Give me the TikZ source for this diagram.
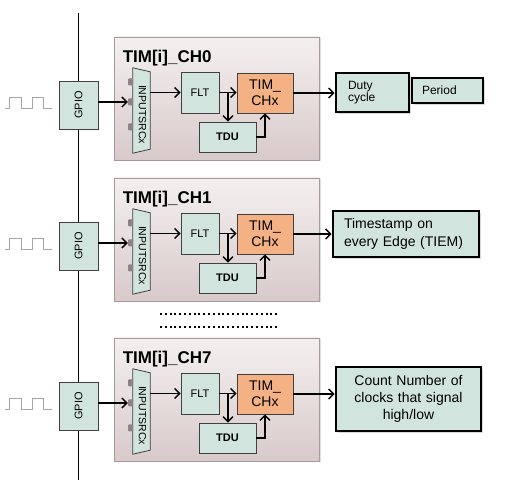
\documentclass[tikz,border=0pt]{standalone}
\usepackage{fontspec}
\setmainfont{Liberation Sans}
\usepackage{xcolor}
\usepackage{tikz}
\usetikzlibrary{positioning}
\usetikzlibrary{calc,shadows,arrows.meta}

\definecolor{tealfill}{HTML}{D2E4DE}
\definecolor{orng}{HTML}{F4B183}
\definecolor{chantop}{HTML}{F4F0F0}
\definecolor{chanbot}{HTML}{D9CACA}
\definecolor{chanedge}{HTML}{A89A9A}
\definecolor{pingrey}{HTML}{8E8282}

\begin{document}
\begin{tikzpicture}[x=1pt, y=1pt,
  chan/.style={draw=chanedge, line width=0.8pt, top color=chantop, bottom color=chanbot,
               minimum width=205pt, minimum height=123pt,
               drop shadow={opacity=0.25, shadow xshift=1.5pt, shadow yshift=-1.5pt}},
  blk/.style={draw=black!75, line width=0.8pt, fill=tealfill, inner sep=0pt,
              font=\fontsize{11}{13}\selectfont},
  outbox/.style={draw=black, line width=2.8pt, fill=tealfill, inner ysep=0pt,
                 drop shadow={opacity=0.3, shadow xshift=2pt, shadow yshift=-2pt}},
  pin/.style={fill=pingrey, rounded corners=1pt, minimum width=5pt, minimum height=7pt, inner sep=0pt},
  arr/.style={-{Straight Barb[length=5pt, width=10pt]}, line width=1.4pt},
  wave/.style={draw=black!35, line width=0.6pt}]
  %\draw [help lines, dotted] (0,0) grid[step=20] (515,487);
  \useasboundingbox (0,0) rectangle (515,487);

  \coordinate (BusTop) at (78.5,474);
  \coordinate (BusBot) at (78.5,7);
  \draw[line width=1.5pt] (BusTop) -- (BusBot);

  \foreach \c/\dy in {0/0, 1/141, 7/301} {
    \node[chan] (Ch\c) at (216.5, 388.5-\dy) {};
    \node[anchor=base west, inner sep=0pt, font=\fontsize{17}{20}\selectfont\bfseries]
      (Title\c) at ([xshift=9pt, yshift=-26pt] Ch\c.north west) {TIM[i]\_CH\c};

    \node[blk, minimum width=39pt, minimum height=48pt] (GPIO\c)
      at ([xshift=-138pt, yshift=-6.5pt] Ch\c.center) {\rotatebox{90}{GPIO}};
    \draw[wave] ([xshift=-73.5pt, yshift=-3pt] GPIO\c.center) -- ++(4,0) -- ++(0,11) -- ++(12,0)
      -- ++(0,-11) -- ++(11,0) -- ++(0,11) -- ++(11,0) -- ++(0,-11) -- ++(9,0);

    \node[minimum width=17pt, minimum height=85pt, inner sep=0pt] (Inp\c)
      at ([xshift=-75pt, yshift=-12pt] Ch\c.center) {};
    \draw[draw=black!75, line width=0.8pt, fill=tealfill] (Inp\c.north west)
      -- ([yshift=-4pt] Inp\c.north east) -- ([yshift=4pt] Inp\c.south east)
      -- (Inp\c.south west) -- cycle;
    \node[inner sep=0pt, font=\fontsize{10.5}{12}\selectfont] (InpT\c)
      at ([xshift=1pt, yshift=-4pt] Inp\c.center) {\rotatebox{-90}{INPUTSRCx}};
    \foreach \p/\s in {a/28.5, b/8.5, c/-16.5}
      \node[pin] (Pin\p\c) at ([xshift=-11pt, yshift=\s pt] Inp\c.center) {};

    \node[blk, minimum width=38pt, minimum height=41pt] (FLT\c)
      at ([xshift=-16.5pt, yshift=6pt] Ch\c.center) {FLT};
    \node[blk, fill=orng, minimum width=56pt, minimum height=40pt, align=center,
          font=\fontsize{14}{16}\selectfont] (TIM\c)
      at ([xshift=48.5pt, yshift=5.5pt] Ch\c.center) {TIM\_\\CHx};
    \node[blk, minimum width=57pt, minimum height=30pt, font=\fontsize{11}{13}\selectfont\bfseries]
      (TDU\c) at ([xshift=11pt, yshift=-38.5pt] Ch\c.center) {TDU};

    \draw[arr] (GPIO\c.east |- Pinb\c) -- (Pinb\c.west);
    \draw[arr] (Inp\c.east |- FLT\c.west) -- (FLT\c.west);
    \draw[arr] (FLT\c.east) -- (TIM\c.west |- FLT\c.east);
    \coordinate (Br\c) at ($(FLT\c.east)!.5!(TIM\c.west |- FLT\c.east)$);
    \draw[arr] (Br\c) -- (Br\c |- TDU\c.north);
    \draw[arr] (TDU\c.east) -| (TIM\c.south);
  }

  \node[outbox, minimum width=73pt, minimum height=39pt, text width=49pt, inner xsep=12pt,
        align=left, font=\fontsize{12}{12.5}\selectfont] (Out0) at (372.5,394.5) {Duty\\cycle};
  \node[outbox, minimum width=71pt, minimum height=25pt, text width=51pt, inner xsep=10pt,
        align=left, font=\fontsize{12}{13}\selectfont] (Period) at (447.5,396.5) {Period};
  \node[outbox, minimum width=146pt, minimum height=46pt, text width=124pt, inner xsep=11pt,
        align=left, font=\fontsize{14}{18}\selectfont] (Out1) at (406,253)
        {Timestamp on\\every Edge (TIEM)};
  \node[outbox, minimum width=145pt, minimum height=64pt, text width=131pt, inner xsep=7pt,
        align=center, font=\fontsize{14}{17}\selectfont] (Out7) at (408.5,88)
        {Count Number of\\clocks that signal\\high/low};
  \foreach \c in {0,1,7}
    \draw[arr] (TIM\c.east) -- (Out\c.west |- TIM\c.east);

  \coordinate (DotL1) at (160,173);
  \coordinate (DotR1) at (277,173);
  \coordinate (DotL2) at (160,160);
  \coordinate (DotR2) at (277,160);
  \foreach \r in {1,2}
    \draw[line width=2pt, dash pattern=on 2pt off 2.8pt] (DotL\r) -- (DotR\r);

\end{tikzpicture}
\end{document}
